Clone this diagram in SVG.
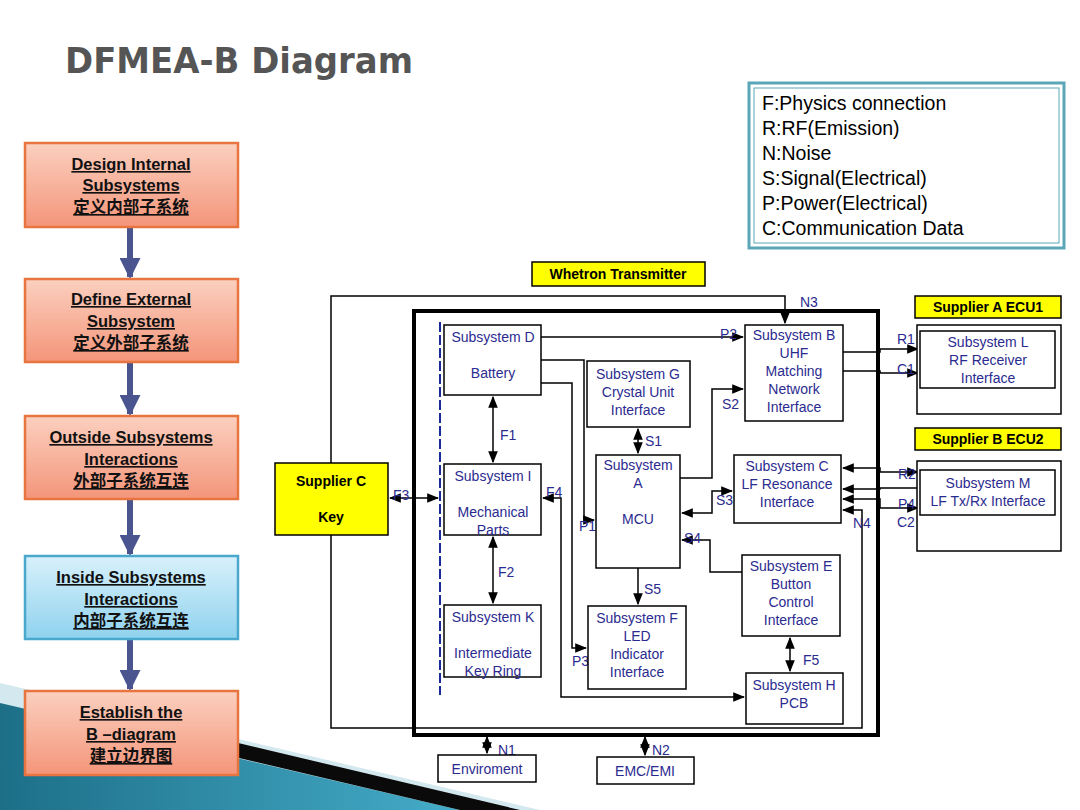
<svg xmlns="http://www.w3.org/2000/svg" width="1080" height="810" viewBox="0 0 1080 810">
<defs>
<linearGradient id="og" x1="0" y1="0" x2="0" y2="1"><stop offset="0" stop-color="#fbd0bf"/><stop offset="1" stop-color="#f4957a"/></linearGradient>
<linearGradient id="bg" x1="0" y1="0" x2="0" y2="1"><stop offset="0" stop-color="#d8f1fb"/><stop offset="1" stop-color="#8fd2ee"/></linearGradient>
<linearGradient id="sw" x1="0" y1="0" x2="1" y2="0"><stop offset="0" stop-color="#1d6f88"/><stop offset="1" stop-color="#45acc8"/></linearGradient>
<marker id="a" viewBox="0 0 10 10" refX="9" refY="5" markerWidth="8" markerHeight="8" orient="auto-start-reverse"><path d="M0,1 L10,5 L0,9 z" fill="#000"/></marker>
<marker id="fa" viewBox="0 0 10 10" refX="9" refY="5" markerWidth="3.5" markerHeight="3.5" orient="auto"><path d="M0,0 L10,5 L0,10 z" fill="#4a5590"/></marker>
</defs>
<style>
.t{font-family:"Liberation Sans",Arial,sans-serif;font-size:14px;fill:#2b2b8f;text-anchor:middle}
.l{font-family:"Liberation Sans",Arial,sans-serif;font-size:14px;fill:#2b2b8f}
.b{fill:#fff;stroke:#000;stroke-width:1.5}
.y{fill:#ffff00;stroke:#000;stroke-width:1.5}
.yt{font-family:"Liberation Sans",Arial,sans-serif;font-size:14px;font-weight:bold;fill:#000;text-anchor:middle}
.c{fill:none;stroke:#000;stroke-width:1.5}
.st{font-family:"Liberation Sans","Noto Sans CJK SC",sans-serif;font-size:16.5px;font-weight:bold;fill:#111;text-anchor:middle;text-decoration:underline}
.lg{font-family:"Liberation Sans",Arial,sans-serif;font-size:19.5px;fill:#000}
</style>
<rect width="1080" height="810" fill="#fff"/>
<polygon points="0,683 540,810 0,810" fill="#d3e8ef"/>
<polygon points="0,703 460,810 0,810" fill="url(#sw)"/>
<polygon points="150,722 520,810 460,810 150,737" fill="#0a0a0a"/>
<text x="65" y="73" font-family="DejaVu Sans,sans-serif" font-size="36" font-weight="bold" fill="#555" textLength="348" lengthAdjust="spacingAndGlyphs">DFMEA-B Diagram</text>

<g id="legend">
<rect x="749" y="83" width="315" height="165" fill="#fff" stroke="#5aa6b8" stroke-width="3"/>
<rect x="754" y="88" width="305" height="155" fill="none" stroke="#5aa6b8" stroke-width="1"/>
<text class="lg" x="762" y="110">F:Physics connection</text>
<text class="lg" x="762" y="135">R:RF(Emission)</text>
<text class="lg" x="762" y="160">N:Noise</text>
<text class="lg" x="762" y="185">S:Signal(Electrical)</text>
<text class="lg" x="762" y="210">P:Power(Electrical)</text>
<text class="lg" x="762" y="235">C:Communication Data</text>
</g>

<g id="flow">
<g stroke="#4a5590" stroke-width="6" marker-end="url(#fa)"><line x1="130" y1="227" x2="130" y2="277"/><line x1="130" y1="362" x2="130" y2="414"/><line x1="130" y1="499" x2="130" y2="554"/><line x1="130" y1="639" x2="130" y2="689"/></g>
<g id="s1"><rect x="25" y="143" width="213" height="84" fill="url(#og)" stroke="#e8743f" stroke-width="2.5"/><text class="st" x="131" y="170">Design Internal</text><text class="st" x="131" y="191">Subsystems</text><text class="st" x="131" y="213">定义内部子系统</text></g>
<g id="s2"><rect x="25" y="279" width="213" height="83" fill="url(#og)" stroke="#e8743f" stroke-width="2.5"/><text class="st" x="131" y="305">Define External </text><text class="st" x="131" y="327">Subsystem</text><text class="st" x="131" y="349">定义外部子系统</text></g>
<g id="s3"><rect x="25" y="416" width="213" height="83" fill="url(#og)" stroke="#e8743f" stroke-width="2.5"/><text class="st" x="131" y="443">Outside Subsystems </text><text class="st" x="131" y="465">Interactions</text><text class="st" x="131" y="487">外部子系统互连</text></g>
<g id="s4"><rect x="25" y="556" width="213" height="83" fill="url(#bg)" stroke="#4aa8cc" stroke-width="2.5"/><text class="st" x="131" y="583">Inside Subsystems</text><text class="st" x="131" y="605">Interactions</text><text class="st" x="131" y="627">内部子系统互连</text></g>
<g id="s5"><rect x="25" y="691" width="213" height="84" fill="url(#og)" stroke="#e8743f" stroke-width="2.5"/><text class="st" x="131" y="718">Establish the</text><text class="st" x="131" y="740">B –diagram</text><text class="st" x="131" y="762">建立边界图</text></g>
</g>

<g id="boundary">
<rect x="414" y="311" width="464" height="424" fill="none" stroke="#000" stroke-width="4"/>
<line x1="440" y1="322" x2="440" y2="695" stroke="#1a2a9a" stroke-width="2" stroke-dasharray="10,3"/>
</g>

<g id="connectors">
<path class="c" d="M331,463 V296 H785 V323" marker-end="url(#a)"/>
<path class="c" d="M331,535 V728 H862 V510 H843" marker-end="url(#a)"/>
<path class="c" d="M541,337 H743" marker-end="url(#a)"/>
<path class="c" d="M541,360 H584 V520 H594" marker-end="url(#a)"/>
<path class="c" d="M541,383 H572 V648 H586" marker-end="url(#a)"/>
<path class="c" d="M493,397 V462" marker-start="url(#a)" marker-end="url(#a)"/>
<path class="c" d="M493,537 V603" marker-start="url(#a)" marker-end="url(#a)"/>
<path class="c" d="M390,498 H438" marker-start="url(#a)" marker-end="url(#a)"/>
<path class="c" d="M744,697 H561 V498 H543" marker-start="url(#a)" marker-end="url(#a)"/>
<path class="c" d="M638,429 V453" marker-start="url(#a)" marker-end="url(#a)"/>
<path class="c" d="M680,478 H712 V389 H743" marker-end="url(#a)"/>
<path class="c" d="M682,513 H712 V491 H732" marker-start="url(#a)" marker-end="url(#a)"/>
<path class="c" d="M742,572 H710 V540 H682" marker-end="url(#a)"/>
<path class="c" d="M638,568 V604" marker-end="url(#a)"/>
<path class="c" d="M790,638 V671" marker-start="url(#a)" marker-end="url(#a)"/>
<path class="c" d="M843,352 H880 V349 H918" marker-end="url(#a)"/>
<path class="c" d="M843,371 H880 V373 H918" marker-end="url(#a)"/>
<path class="c" d="M843,468 H880 V472 H918" marker-start="url(#a)" marker-end="url(#a)"/>
<path class="c" d="M920,488 H880 V489 H843" marker-end="url(#a)"/>
<path class="c" d="M843,499 H880 V508 H918" marker-start="url(#a)" marker-end="url(#a)"/>
<path class="c" d="M487,737 V753" marker-start="url(#a)" marker-end="url(#a)"/>
<path class="c" d="M645,737 V755" marker-start="url(#a)" marker-end="url(#a)"/>
<text class="l" x="800" y="307">N3</text>
<text class="l" x="720" y="339">P2</text>
<text class="l" x="579" y="531">P1</text>
<text class="l" x="572" y="666">P3</text>
<text class="l" x="500" y="440">F1</text>
<text class="l" x="498" y="577">F2</text>
<text class="l" x="393" y="500">F3</text>
<text class="l" x="546" y="497">F4</text>
<text class="l" x="645" y="446">S1</text>
<text class="l" x="722" y="409">S2</text>
<text class="l" x="716" y="505">S3</text>
<text class="l" x="684" y="543">S4</text>
<text class="l" x="644" y="594">S5</text>
<text class="l" x="803" y="665">F5</text>
<text class="l" x="897" y="344">R1</text>
<text class="l" x="897" y="374">C1</text>
<text class="l" x="898" y="479">R2</text>
<text class="l" x="898" y="509">P4</text>
<text class="l" x="897" y="527">C2</text>
<text class="l" x="853" y="528">N4</text>
<text class="l" x="498" y="755">N1</text>
<text class="l" x="652" y="755">N2</text>
</g>

<g id="whetron"><rect class="y" x="532" y="262" width="173" height="24"/><text class="yt" x="618" y="279">Whetron Transmitter</text></g>
<g id="supC"><rect class="y" x="275" y="463" width="113" height="72"/><text class="yt" x="331" y="486">Supplier C</text><text class="yt" x="331" y="522">Key</text></g>
<g id="D"><rect class="b" x="444" y="325" width="97" height="70"/><text class="t" x="493" y="342">Subsystem D</text><text class="t" x="493" y="378">Battery</text></g>
<g id="G"><rect class="b" x="587" y="361" width="103" height="66"/><text class="t" x="638" y="379">Subsystem G</text><text class="t" x="638" y="397">Crystal Unit</text><text class="t" x="638" y="415">Interface</text></g>
<g id="B"><rect class="b" x="745" y="325" width="98" height="96"/><text class="t" x="794" y="340">Subsystem B</text><text class="t" x="794" y="358">UHF</text><text class="t" x="794" y="376">Matching</text><text class="t" x="794" y="394">Network</text><text class="t" x="794" y="412">Interface</text></g>
<g id="I"><rect class="b" x="444" y="464" width="97" height="71"/><text class="t" x="493" y="481">Subsystem I</text><text class="t" x="493" y="517">Mechanical</text><text class="t" x="493" y="535">Parts</text></g>
<g id="A"><rect class="b" x="596" y="455" width="84" height="113"/><text class="t" x="638" y="470">Subsystem</text><text class="t" x="638" y="488">A</text><text class="t" x="638" y="524">MCU</text></g>
<g id="C"><rect class="b" x="734" y="455" width="107" height="68"/><text class="t" x="787" y="471">Subsystem C</text><text class="t" x="787" y="489">LF Resonance</text><text class="t" x="787" y="507">Interface</text></g>
<g id="K"><rect class="b" x="444" y="605" width="97" height="72"/><text class="t" x="493" y="622">Subsystem K</text><text class="t" x="493" y="658">Intermediate</text><text class="t" x="493" y="676">Key Ring</text></g>
<g id="F"><rect class="b" x="588" y="606" width="98" height="83"/><text class="t" x="637" y="623">Subsystem F</text><text class="t" x="637" y="641">LED</text><text class="t" x="637" y="659">Indicator</text><text class="t" x="637" y="677">Interface</text></g>
<g id="E"><rect class="b" x="742" y="555" width="98" height="81"/><text class="t" x="791" y="571">Subsystem E</text><text class="t" x="791" y="589">Button</text><text class="t" x="791" y="607">Control</text><text class="t" x="791" y="625">Interface</text></g>
<g id="H"><rect class="b" x="746" y="673" width="97" height="51"/><text class="t" x="794" y="690">Subsystem H</text><text class="t" x="794" y="708">PCB</text></g>
<g id="supA"><rect class="y" x="915" y="296" width="146" height="22"/><text class="yt" x="988" y="312">Supplier A ECU1</text><rect class="b" x="917" y="325" width="144" height="89"/><rect class="b" x="920" y="331" width="135" height="57"/><text class="t" x="988" y="347">Subsystem L</text><text class="t" x="988" y="365">RF Receiver</text><text class="t" x="988" y="383">Interface</text></g>
<g id="supB"><rect class="y" x="915" y="428" width="146" height="22"/><text class="yt" x="988" y="444">Supplier B ECU2</text><rect class="b" x="917" y="461" width="144" height="90"/><rect class="b" x="920" y="470" width="135" height="45"/><text class="t" x="988" y="488">Subsystem M</text><text class="t" x="988" y="506">LF Tx/Rx Interface</text></g>
<g id="env"><rect class="b" x="438" y="755" width="98" height="27"/><text class="t" x="487" y="774">Enviroment</text></g>
<g id="emc"><rect class="b" x="597" y="757" width="97" height="27"/><text class="t" x="645" y="776">EMC/EMI</text></g>
</svg>
